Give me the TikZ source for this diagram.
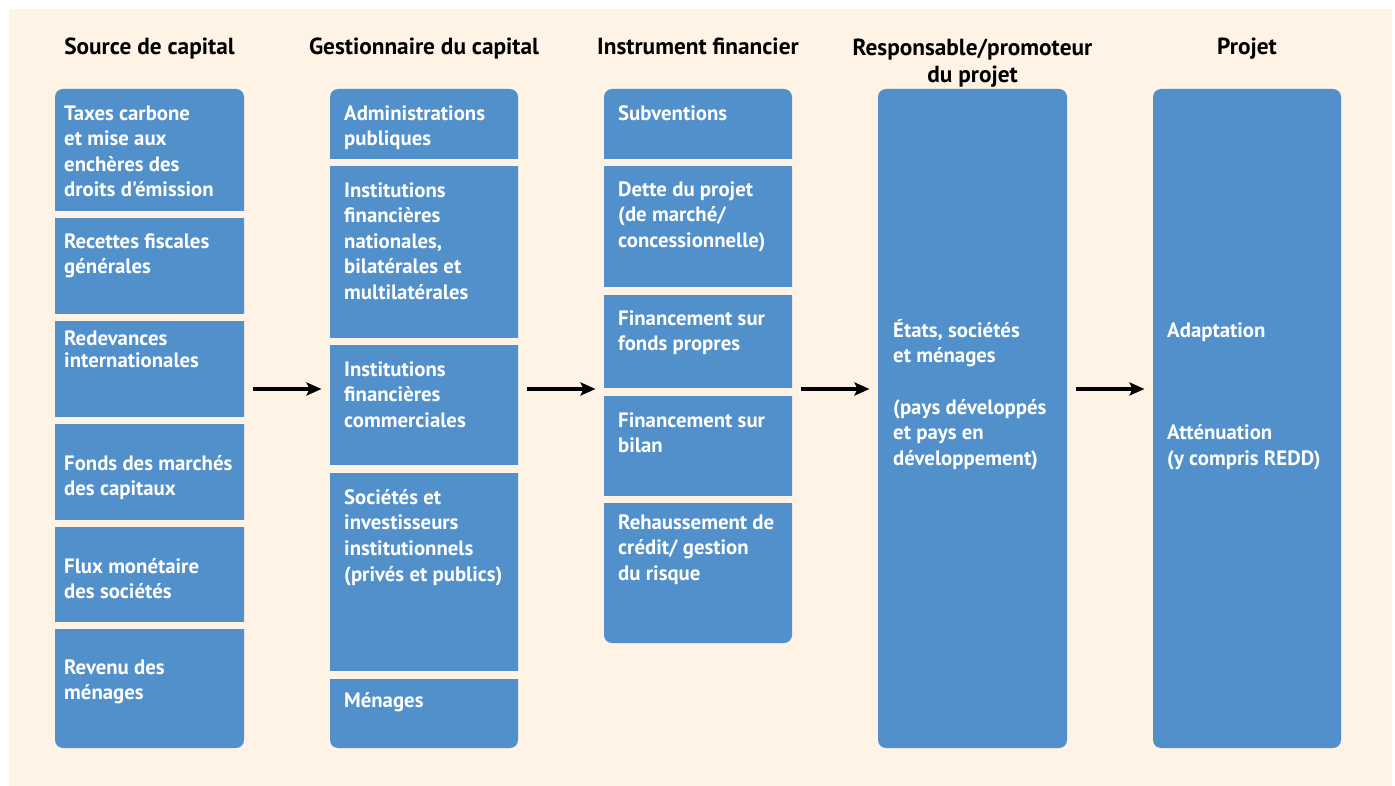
\documentclass[tikz,border=0pt]{standalone}
\usepackage{fontspec}
\setmainfont{PT Sans}[Ligatures=TeXOff]
\usetikzlibrary{arrows.meta}
\definecolor{cream}{HTML}{FEF3E5}
\definecolor{boxblue}{HTML}{5190CB}
\begin{document}
\begin{tikzpicture}[x=1pt,y=-1pt,
  colbox/.style={fill=boxblue, rounded corners=8pt, anchor=north west, inner sep=0pt, outer sep=0pt},
  gap/.style={fill=cream},
  txt/.style={anchor=north west, inner sep=0pt, align=left, text=white, font=\fontsize{20.8}{25.6}\selectfont\bfseries},
  tighttxt/.style={anchor=north west, inner sep=0pt, align=left, text=white, font=\fontsize{20.8}{22}\selectfont\bfseries},
  hdr/.style={anchor=north, inner sep=0pt, align=center, text=black, font=\fontsize{23.3}{27}\selectfont\bfseries},
  arr/.style={line width=3.5pt, -{Stealth[length=15pt,width=13pt,inset=3pt]}, shorten <=8.5pt, shorten >=8.5pt}]
\def\sh{17.92}
\def\hs{18.9}
\fill[white] (0,0) rectangle (1395,786);
\useasboundingbox (0,0) rectangle (1395,786);
\fill[cream] (9,9) rectangle (1392,786);

% columns
\node[colbox, minimum width=189pt, minimum height=659pt] (c1) at (55,89) {};
\node[colbox, minimum width=188pt, minimum height=659pt] (c2) at (330,89) {};
\node[colbox, minimum width=188pt, minimum height=554pt] (c3) at (604,89) {};
\node[colbox, minimum width=189pt, minimum height=659pt] (c4) at (878,89) {};
\node[colbox, minimum width=188pt, minimum height=659pt] (c5) at (1153,89) {};

% gaps column 1
\fill[gap] (54,211) rectangle (245,218);
\fill[gap] (54,314) rectangle (245,321);
\fill[gap] (54,417) rectangle (245,424);
\fill[gap] (54,520) rectangle (245,527);
\fill[gap] (54,622) rectangle (245,629);
% gaps column 2
\fill[gap] (329,159) rectangle (519,166);
\fill[gap] (329,338) rectangle (519,345);
\fill[gap] (329,465) rectangle (519,473);
\fill[gap] (329,671) rectangle (519,679);
% gaps column 3
\fill[gap] (603,159) rectangle (793,166);
\fill[gap] (603,287) rectangle (793,295);
\fill[gap] (603,388) rectangle (793,396);
\fill[gap] (603,496) rectangle (793,503);

% headers
\node[hdr] (h1) at (149.5,{54-\hs}) {\strut Source de capital};
\node[hdr] (h2) at (424,{54-\hs}) {\strut Gestionnaire du capital};
\node[hdr] (h3) at (698,{54-\hs}) {\strut Instrument financier};
\node[hdr] (h4) at (972.5,{55-\hs}) {\strut Responsable/promoteur\\du projet};
\node[hdr] (h5) at (1247,{54-\hs}) {\strut Projet};

% column 1 texts
\node[txt] (t11) at (64,{120-\sh}) {\strut Taxes carbone\\et mise aux\\enchères des\\droits d'émission};
\node[txt] (t12) at (64,{248-\sh}) {\strut Recettes fiscales\\générales};
\node[tighttxt] (t13) at (64,{345-15.4}) {\strut Redevances\\internationales};
\node[txt] (t14) at (64,{470-\sh}) {\strut Fonds des marchés\\des capitaux};
\node[txt] (t15) at (64,{573-\sh}) {\strut Flux monétaire\\des sociétés};
\node[txt] (t16) at (64,{674-\sh}) {\strut Revenu des\\ménages};

% column 2 texts
\node[txt] (t21) at (344,{120-\sh}) {\strut Administrations\\publiques};
\node[txt] (t22) at (344,{197-\sh}) {\strut Institutions\\financières\\nationales,\\bilatérales et\\multilatérales};
\node[txt] (t23) at (344,{376-\sh}) {\strut Institutions\\financières\\commerciales};
\node[txt] (t24) at (344,{504-\sh}) {\strut Sociétés et\\investisseurs\\institutionnels\\(privés et publics)};
\node[txt] (t25) at (344,{707-\sh}) {\strut Ménages};

% column 3 texts
\node[txt] (t31) at (618,{120-\sh}) {\strut Subventions};
\node[txt] (t32) at (618,{196-\sh}) {\strut Dette du projet\\(de marché/\\concessionnelle)};
\node[txt] (t33) at (618,{325-\sh}) {\strut Financement sur\\fonds propres};
\node[txt] (t34) at (618,{427-\sh}) {\strut Financement sur\\bilan};
\node[txt] (t35) at (618,{529-\sh}) {\strut Rehaussement de\\crédit/ gestion\\du risque};

% column 4 and 5 texts
\node[txt] (t41) at (893,{337-\sh}) {\strut États, sociétés\\et ménages\\\strut\\(pays développés\\et pays en\\développement)};
\node[txt] (t51) at (1167,{337-\sh}) {\strut Adaptation\\\strut\\\strut\\\strut\\Atténuation\\(y compris REDD)};

% arrows
\coordinate (mid) at (0,389);
\draw[arr] (c1.east |- mid) -- (c2.west |- mid);
\draw[arr] (c2.east |- mid) -- (c3.west |- mid);
\draw[arr] (c3.east |- mid) -- (c4.west |- mid);
\draw[arr] (c4.east |- mid) -- (c5.west |- mid);
\end{tikzpicture}
\end{document}
